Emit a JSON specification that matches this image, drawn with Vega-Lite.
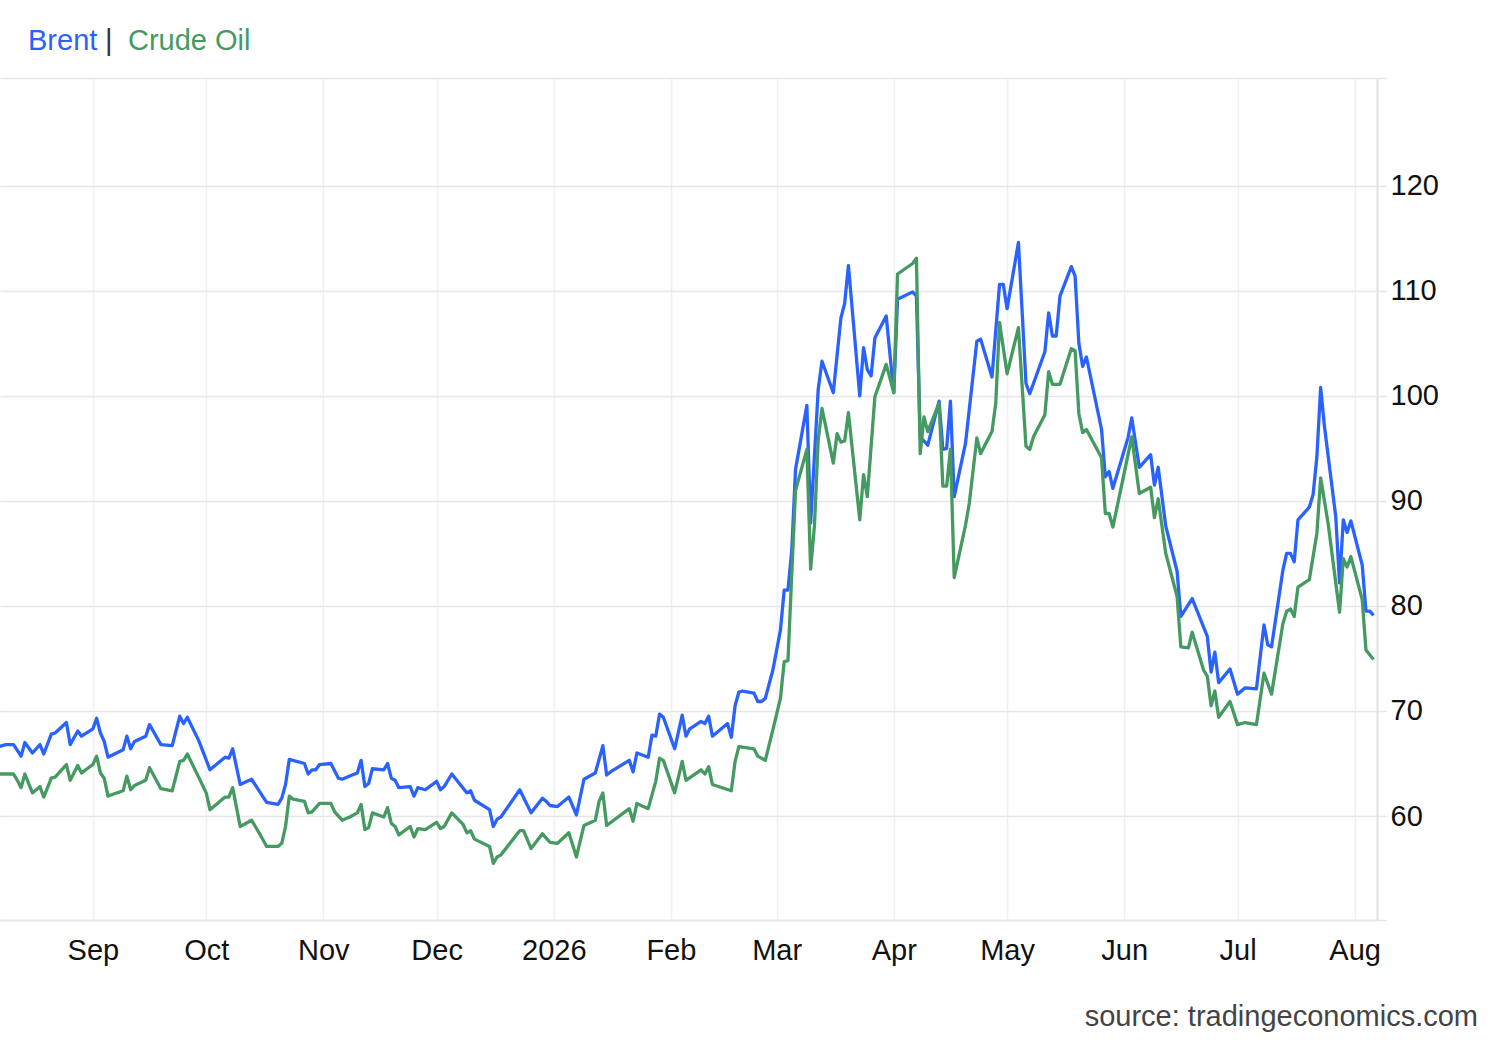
{
  "$schema": "https://vega.github.io/schema/vega-lite/v6.json",
  "width": 1377,
  "height": 842,
  "autosize": {"type": "none"},
  "padding": {"left": 0, "top": 78, "right": 123, "bottom": 120},
  "background": "white",
  "config": {
    "font": "Liberation Sans",
    "view": {"stroke": null}
  },
  "title": {
    "text": "source: tradingeconomics.com",
    "orient": "bottom",
    "anchor": "end",
    "frame": "group",
    "dx": 101,
    "offset": 38,
    "fontSize": 29,
    "fontWeight": "normal",
    "color": "#444444"
  },
  "data": {
    "values": [
      {"date": "2025-08-07", "series": "Brent", "price": 66.6},
      {"date": "2025-08-09", "series": "Brent", "price": 66.8},
      {"date": "2025-08-11", "series": "Brent", "price": 66.8},
      {"date": "2025-08-13", "series": "Brent", "price": 65.7},
      {"date": "2025-08-14", "series": "Brent", "price": 67.0},
      {"date": "2025-08-16", "series": "Brent", "price": 66.0},
      {"date": "2025-08-18", "series": "Brent", "price": 66.8},
      {"date": "2025-08-19", "series": "Brent", "price": 65.9},
      {"date": "2025-08-21", "series": "Brent", "price": 67.8},
      {"date": "2025-08-22", "series": "Brent", "price": 67.9},
      {"date": "2025-08-25", "series": "Brent", "price": 68.9},
      {"date": "2025-08-26", "series": "Brent", "price": 66.8},
      {"date": "2025-08-28", "series": "Brent", "price": 68.1},
      {"date": "2025-08-29", "series": "Brent", "price": 67.6},
      {"date": "2025-09-01", "series": "Brent", "price": 68.3},
      {"date": "2025-09-02", "series": "Brent", "price": 69.3},
      {"date": "2025-09-03", "series": "Brent", "price": 67.9},
      {"date": "2025-09-04", "series": "Brent", "price": 67.1},
      {"date": "2025-09-05", "series": "Brent", "price": 65.6},
      {"date": "2025-09-09", "series": "Brent", "price": 66.3},
      {"date": "2025-09-10", "series": "Brent", "price": 67.6},
      {"date": "2025-09-11", "series": "Brent", "price": 66.4},
      {"date": "2025-09-12", "series": "Brent", "price": 67.1},
      {"date": "2025-09-15", "series": "Brent", "price": 67.6},
      {"date": "2025-09-16", "series": "Brent", "price": 68.7},
      {"date": "2025-09-19", "series": "Brent", "price": 66.8},
      {"date": "2025-09-22", "series": "Brent", "price": 66.7},
      {"date": "2025-09-24", "series": "Brent", "price": 69.5},
      {"date": "2025-09-25", "series": "Brent", "price": 68.8},
      {"date": "2025-09-26", "series": "Brent", "price": 69.4},
      {"date": "2025-09-29", "series": "Brent", "price": 67.2},
      {"date": "2025-10-02", "series": "Brent", "price": 64.4},
      {"date": "2025-10-06", "series": "Brent", "price": 65.6},
      {"date": "2025-10-07", "series": "Brent", "price": 65.5},
      {"date": "2025-10-08", "series": "Brent", "price": 66.4},
      {"date": "2025-10-10", "series": "Brent", "price": 63.0},
      {"date": "2025-10-13", "series": "Brent", "price": 63.5},
      {"date": "2025-10-17", "series": "Brent", "price": 61.3},
      {"date": "2025-10-20", "series": "Brent", "price": 61.1},
      {"date": "2025-10-21", "series": "Brent", "price": 61.7},
      {"date": "2025-10-22", "series": "Brent", "price": 63.0},
      {"date": "2025-10-23", "series": "Brent", "price": 65.4},
      {"date": "2025-10-27", "series": "Brent", "price": 65.0},
      {"date": "2025-10-28", "series": "Brent", "price": 64.0},
      {"date": "2025-10-29", "series": "Brent", "price": 64.4},
      {"date": "2025-10-30", "series": "Brent", "price": 64.4},
      {"date": "2025-10-31", "series": "Brent", "price": 64.9},
      {"date": "2025-11-03", "series": "Brent", "price": 65.0},
      {"date": "2025-11-05", "series": "Brent", "price": 63.6},
      {"date": "2025-11-06", "series": "Brent", "price": 63.5},
      {"date": "2025-11-08", "series": "Brent", "price": 63.8},
      {"date": "2025-11-10", "series": "Brent", "price": 64.1},
      {"date": "2025-11-11", "series": "Brent", "price": 65.3},
      {"date": "2025-11-12", "series": "Brent", "price": 62.8},
      {"date": "2025-11-13", "series": "Brent", "price": 63.1},
      {"date": "2025-11-14", "series": "Brent", "price": 64.5},
      {"date": "2025-11-17", "series": "Brent", "price": 64.4},
      {"date": "2025-11-18", "series": "Brent", "price": 65.0},
      {"date": "2025-11-19", "series": "Brent", "price": 63.6},
      {"date": "2025-11-20", "series": "Brent", "price": 63.4},
      {"date": "2025-11-21", "series": "Brent", "price": 62.7},
      {"date": "2025-11-24", "series": "Brent", "price": 62.8},
      {"date": "2025-11-25", "series": "Brent", "price": 61.9},
      {"date": "2025-11-26", "series": "Brent", "price": 62.7},
      {"date": "2025-11-28", "series": "Brent", "price": 62.5},
      {"date": "2025-12-01", "series": "Brent", "price": 63.3},
      {"date": "2025-12-02", "series": "Brent", "price": 62.5},
      {"date": "2025-12-03", "series": "Brent", "price": 62.8},
      {"date": "2025-12-05", "series": "Brent", "price": 64.0},
      {"date": "2025-12-09", "series": "Brent", "price": 62.2},
      {"date": "2025-12-10", "series": "Brent", "price": 62.4},
      {"date": "2025-12-11", "series": "Brent", "price": 61.5},
      {"date": "2025-12-15", "series": "Brent", "price": 60.6},
      {"date": "2025-12-16", "series": "Brent", "price": 59.0},
      {"date": "2025-12-17", "series": "Brent", "price": 59.7},
      {"date": "2025-12-18", "series": "Brent", "price": 59.9},
      {"date": "2025-12-23", "series": "Brent", "price": 62.5},
      {"date": "2025-12-26", "series": "Brent", "price": 60.3},
      {"date": "2025-12-29", "series": "Brent", "price": 61.7},
      {"date": "2025-12-30", "series": "Brent", "price": 61.4},
      {"date": "2025-12-31", "series": "Brent", "price": 61.0},
      {"date": "2026-01-02", "series": "Brent", "price": 60.9},
      {"date": "2026-01-05", "series": "Brent", "price": 61.8},
      {"date": "2026-01-07", "series": "Brent", "price": 60.1},
      {"date": "2026-01-09", "series": "Brent", "price": 63.5},
      {"date": "2026-01-12", "series": "Brent", "price": 64.1},
      {"date": "2026-01-14", "series": "Brent", "price": 66.7},
      {"date": "2026-01-15", "series": "Brent", "price": 63.9},
      {"date": "2026-01-16", "series": "Brent", "price": 64.2},
      {"date": "2026-01-21", "series": "Brent", "price": 65.3},
      {"date": "2026-01-22", "series": "Brent", "price": 64.2},
      {"date": "2026-01-23", "series": "Brent", "price": 66.0},
      {"date": "2026-01-26", "series": "Brent", "price": 65.6},
      {"date": "2026-01-27", "series": "Brent", "price": 67.7},
      {"date": "2026-01-28", "series": "Brent", "price": 67.6},
      {"date": "2026-01-29", "series": "Brent", "price": 69.7},
      {"date": "2026-01-30", "series": "Brent", "price": 69.4},
      {"date": "2026-02-02", "series": "Brent", "price": 66.4},
      {"date": "2026-02-04", "series": "Brent", "price": 69.6},
      {"date": "2026-02-05", "series": "Brent", "price": 67.6},
      {"date": "2026-02-06", "series": "Brent", "price": 68.3},
      {"date": "2026-02-09", "series": "Brent", "price": 69.0},
      {"date": "2026-02-10", "series": "Brent", "price": 68.8},
      {"date": "2026-02-11", "series": "Brent", "price": 69.5},
      {"date": "2026-02-12", "series": "Brent", "price": 67.6},
      {"date": "2026-02-16", "series": "Brent", "price": 68.8},
      {"date": "2026-02-17", "series": "Brent", "price": 67.5},
      {"date": "2026-02-18", "series": "Brent", "price": 70.5},
      {"date": "2026-02-19", "series": "Brent", "price": 71.8},
      {"date": "2026-02-20", "series": "Brent", "price": 71.9},
      {"date": "2026-02-23", "series": "Brent", "price": 71.7},
      {"date": "2026-02-24", "series": "Brent", "price": 70.9},
      {"date": "2026-02-25", "series": "Brent", "price": 70.9},
      {"date": "2026-02-26", "series": "Brent", "price": 71.2},
      {"date": "2026-02-28", "series": "Brent", "price": 73.9},
      {"date": "2026-03-02", "series": "Brent", "price": 77.7},
      {"date": "2026-03-03", "series": "Brent", "price": 81.5},
      {"date": "2026-03-04", "series": "Brent", "price": 81.5},
      {"date": "2026-03-05", "series": "Brent", "price": 85.3},
      {"date": "2026-03-06", "series": "Brent", "price": 93.0},
      {"date": "2026-03-09", "series": "Brent", "price": 99.1},
      {"date": "2026-03-10", "series": "Brent", "price": 87.9},
      {"date": "2026-03-12", "series": "Brent", "price": 100.6},
      {"date": "2026-03-13", "series": "Brent", "price": 103.3},
      {"date": "2026-03-16", "series": "Brent", "price": 100.3},
      {"date": "2026-03-18", "series": "Brent", "price": 107.4},
      {"date": "2026-03-19", "series": "Brent", "price": 108.8},
      {"date": "2026-03-20", "series": "Brent", "price": 112.4},
      {"date": "2026-03-23", "series": "Brent", "price": 100.0},
      {"date": "2026-03-24", "series": "Brent", "price": 104.6},
      {"date": "2026-03-25", "series": "Brent", "price": 102.5},
      {"date": "2026-03-26", "series": "Brent", "price": 101.9},
      {"date": "2026-03-27", "series": "Brent", "price": 105.5},
      {"date": "2026-03-30", "series": "Brent", "price": 107.6},
      {"date": "2026-04-01", "series": "Brent", "price": 100.3},
      {"date": "2026-04-02", "series": "Brent", "price": 109.2},
      {"date": "2026-04-06", "series": "Brent", "price": 109.9},
      {"date": "2026-04-07", "series": "Brent", "price": 109.5},
      {"date": "2026-04-08", "series": "Brent", "price": 96.1},
      {"date": "2026-04-09", "series": "Brent", "price": 95.7},
      {"date": "2026-04-10", "series": "Brent", "price": 95.3},
      {"date": "2026-04-13", "series": "Brent", "price": 99.5},
      {"date": "2026-04-14", "series": "Brent", "price": 94.9},
      {"date": "2026-04-15", "series": "Brent", "price": 95.0},
      {"date": "2026-04-16", "series": "Brent", "price": 99.5},
      {"date": "2026-04-17", "series": "Brent", "price": 90.4},
      {"date": "2026-04-20", "series": "Brent", "price": 95.5},
      {"date": "2026-04-23", "series": "Brent", "price": 105.2},
      {"date": "2026-04-24", "series": "Brent", "price": 105.4},
      {"date": "2026-04-27", "series": "Brent", "price": 101.8},
      {"date": "2026-04-29", "series": "Brent", "price": 110.6},
      {"date": "2026-04-30", "series": "Brent", "price": 110.6},
      {"date": "2026-05-01", "series": "Brent", "price": 108.3},
      {"date": "2026-05-04", "series": "Brent", "price": 114.6},
      {"date": "2026-05-06", "series": "Brent", "price": 101.2},
      {"date": "2026-05-07", "series": "Brent", "price": 100.2},
      {"date": "2026-05-11", "series": "Brent", "price": 104.2},
      {"date": "2026-05-12", "series": "Brent", "price": 107.9},
      {"date": "2026-05-13", "series": "Brent", "price": 105.7},
      {"date": "2026-05-14", "series": "Brent", "price": 105.7},
      {"date": "2026-05-15", "series": "Brent", "price": 109.5},
      {"date": "2026-05-18", "series": "Brent", "price": 112.3},
      {"date": "2026-05-19", "series": "Brent", "price": 111.4},
      {"date": "2026-05-20", "series": "Brent", "price": 105.0},
      {"date": "2026-05-21", "series": "Brent", "price": 102.8},
      {"date": "2026-05-22", "series": "Brent", "price": 103.7},
      {"date": "2026-05-26", "series": "Brent", "price": 96.8},
      {"date": "2026-05-27", "series": "Brent", "price": 92.3},
      {"date": "2026-05-28", "series": "Brent", "price": 92.8},
      {"date": "2026-05-29", "series": "Brent", "price": 91.2},
      {"date": "2026-06-02", "series": "Brent", "price": 96.0},
      {"date": "2026-06-03", "series": "Brent", "price": 97.9},
      {"date": "2026-06-05", "series": "Brent", "price": 93.2},
      {"date": "2026-06-08", "series": "Brent", "price": 94.4},
      {"date": "2026-06-09", "series": "Brent", "price": 91.5},
      {"date": "2026-06-10", "series": "Brent", "price": 93.2},
      {"date": "2026-06-12", "series": "Brent", "price": 87.6},
      {"date": "2026-06-15", "series": "Brent", "price": 83.3},
      {"date": "2026-06-16", "series": "Brent", "price": 79.0},
      {"date": "2026-06-19", "series": "Brent", "price": 80.7},
      {"date": "2026-06-23", "series": "Brent", "price": 77.1},
      {"date": "2026-06-24", "series": "Brent", "price": 73.7},
      {"date": "2026-06-25", "series": "Brent", "price": 75.6},
      {"date": "2026-06-26", "series": "Brent", "price": 72.7},
      {"date": "2026-06-29", "series": "Brent", "price": 74.0},
      {"date": "2026-07-01", "series": "Brent", "price": 71.6},
      {"date": "2026-07-03", "series": "Brent", "price": 72.2},
      {"date": "2026-07-06", "series": "Brent", "price": 72.1},
      {"date": "2026-07-08", "series": "Brent", "price": 78.2},
      {"date": "2026-07-09", "series": "Brent", "price": 76.3},
      {"date": "2026-07-10", "series": "Brent", "price": 76.1},
      {"date": "2026-07-13", "series": "Brent", "price": 83.4},
      {"date": "2026-07-14", "series": "Brent", "price": 85.0},
      {"date": "2026-07-15", "series": "Brent", "price": 85.0},
      {"date": "2026-07-16", "series": "Brent", "price": 84.2},
      {"date": "2026-07-17", "series": "Brent", "price": 88.2},
      {"date": "2026-07-20", "series": "Brent", "price": 89.4},
      {"date": "2026-07-21", "series": "Brent", "price": 90.6},
      {"date": "2026-07-22", "series": "Brent", "price": 94.2},
      {"date": "2026-07-23", "series": "Brent", "price": 100.8},
      {"date": "2026-07-24", "series": "Brent", "price": 97.1},
      {"date": "2026-07-27", "series": "Brent", "price": 88.5},
      {"date": "2026-07-28", "series": "Brent", "price": 82.2},
      {"date": "2026-07-29", "series": "Brent", "price": 88.2},
      {"date": "2026-07-30", "series": "Brent", "price": 87.0},
      {"date": "2026-07-31", "series": "Brent", "price": 88.1},
      {"date": "2026-08-03", "series": "Brent", "price": 83.9},
      {"date": "2026-08-04", "series": "Brent", "price": 79.5},
      {"date": "2026-08-05", "series": "Brent", "price": 79.5},
      {"date": "2026-08-06", "series": "Brent", "price": 79.1},
      {"date": "2025-08-07", "series": "Crude Oil", "price": 64.0},
      {"date": "2025-08-11", "series": "Crude Oil", "price": 64.0},
      {"date": "2025-08-12", "series": "Crude Oil", "price": 63.4},
      {"date": "2025-08-13", "series": "Crude Oil", "price": 62.7},
      {"date": "2025-08-14", "series": "Crude Oil", "price": 64.0},
      {"date": "2025-08-16", "series": "Crude Oil", "price": 62.2},
      {"date": "2025-08-18", "series": "Crude Oil", "price": 62.8},
      {"date": "2025-08-19", "series": "Crude Oil", "price": 61.8},
      {"date": "2025-08-21", "series": "Crude Oil", "price": 63.6},
      {"date": "2025-08-22", "series": "Crude Oil", "price": 63.7},
      {"date": "2025-08-25", "series": "Crude Oil", "price": 64.9},
      {"date": "2025-08-26", "series": "Crude Oil", "price": 63.4},
      {"date": "2025-08-28", "series": "Crude Oil", "price": 64.8},
      {"date": "2025-08-29", "series": "Crude Oil", "price": 64.1},
      {"date": "2025-09-01", "series": "Crude Oil", "price": 64.9},
      {"date": "2025-09-02", "series": "Crude Oil", "price": 65.7},
      {"date": "2025-09-03", "series": "Crude Oil", "price": 64.1},
      {"date": "2025-09-04", "series": "Crude Oil", "price": 63.6},
      {"date": "2025-09-05", "series": "Crude Oil", "price": 61.9},
      {"date": "2025-09-09", "series": "Crude Oil", "price": 62.4},
      {"date": "2025-09-10", "series": "Crude Oil", "price": 63.8},
      {"date": "2025-09-11", "series": "Crude Oil", "price": 62.5},
      {"date": "2025-09-12", "series": "Crude Oil", "price": 62.9},
      {"date": "2025-09-15", "series": "Crude Oil", "price": 63.4},
      {"date": "2025-09-16", "series": "Crude Oil", "price": 64.6},
      {"date": "2025-09-19", "series": "Crude Oil", "price": 62.6},
      {"date": "2025-09-22", "series": "Crude Oil", "price": 62.4},
      {"date": "2025-09-24", "series": "Crude Oil", "price": 65.2},
      {"date": "2025-09-25", "series": "Crude Oil", "price": 65.3},
      {"date": "2025-09-26", "series": "Crude Oil", "price": 65.9},
      {"date": "2025-09-29", "series": "Crude Oil", "price": 63.7},
      {"date": "2025-10-01", "series": "Crude Oil", "price": 62.2},
      {"date": "2025-10-02", "series": "Crude Oil", "price": 60.6},
      {"date": "2025-10-06", "series": "Crude Oil", "price": 61.8},
      {"date": "2025-10-07", "series": "Crude Oil", "price": 61.8},
      {"date": "2025-10-08", "series": "Crude Oil", "price": 62.7},
      {"date": "2025-10-10", "series": "Crude Oil", "price": 59.0},
      {"date": "2025-10-13", "series": "Crude Oil", "price": 59.6},
      {"date": "2025-10-15", "series": "Crude Oil", "price": 58.4},
      {"date": "2025-10-17", "series": "Crude Oil", "price": 57.1},
      {"date": "2025-10-20", "series": "Crude Oil", "price": 57.1},
      {"date": "2025-10-21", "series": "Crude Oil", "price": 57.4},
      {"date": "2025-10-22", "series": "Crude Oil", "price": 59.0},
      {"date": "2025-10-23", "series": "Crude Oil", "price": 61.9},
      {"date": "2025-10-24", "series": "Crude Oil", "price": 61.6},
      {"date": "2025-10-27", "series": "Crude Oil", "price": 61.4},
      {"date": "2025-10-28", "series": "Crude Oil", "price": 60.3},
      {"date": "2025-10-29", "series": "Crude Oil", "price": 60.4},
      {"date": "2025-10-31", "series": "Crude Oil", "price": 61.2},
      {"date": "2025-11-03", "series": "Crude Oil", "price": 61.2},
      {"date": "2025-11-04", "series": "Crude Oil", "price": 60.4},
      {"date": "2025-11-06", "series": "Crude Oil", "price": 59.6},
      {"date": "2025-11-08", "series": "Crude Oil", "price": 59.9},
      {"date": "2025-11-10", "series": "Crude Oil", "price": 60.3},
      {"date": "2025-11-11", "series": "Crude Oil", "price": 61.1},
      {"date": "2025-11-12", "series": "Crude Oil", "price": 58.7},
      {"date": "2025-11-13", "series": "Crude Oil", "price": 58.9},
      {"date": "2025-11-14", "series": "Crude Oil", "price": 60.3},
      {"date": "2025-11-17", "series": "Crude Oil", "price": 59.9},
      {"date": "2025-11-18", "series": "Crude Oil", "price": 60.8},
      {"date": "2025-11-19", "series": "Crude Oil", "price": 59.3},
      {"date": "2025-11-20", "series": "Crude Oil", "price": 59.0},
      {"date": "2025-11-21", "series": "Crude Oil", "price": 58.2},
      {"date": "2025-11-24", "series": "Crude Oil", "price": 59.0},
      {"date": "2025-11-25", "series": "Crude Oil", "price": 58.0},
      {"date": "2025-11-26", "series": "Crude Oil", "price": 58.8},
      {"date": "2025-11-28", "series": "Crude Oil", "price": 58.7},
      {"date": "2025-12-01", "series": "Crude Oil", "price": 59.4},
      {"date": "2025-12-02", "series": "Crude Oil", "price": 58.8},
      {"date": "2025-12-03", "series": "Crude Oil", "price": 59.0},
      {"date": "2025-12-05", "series": "Crude Oil", "price": 60.3},
      {"date": "2025-12-08", "series": "Crude Oil", "price": 59.2},
      {"date": "2025-12-09", "series": "Crude Oil", "price": 58.4},
      {"date": "2025-12-10", "series": "Crude Oil", "price": 58.6},
      {"date": "2025-12-11", "series": "Crude Oil", "price": 57.8},
      {"date": "2025-12-15", "series": "Crude Oil", "price": 57.1},
      {"date": "2025-12-16", "series": "Crude Oil", "price": 55.5},
      {"date": "2025-12-17", "series": "Crude Oil", "price": 56.1},
      {"date": "2025-12-18", "series": "Crude Oil", "price": 56.3},
      {"date": "2025-12-23", "series": "Crude Oil", "price": 58.6},
      {"date": "2025-12-24", "series": "Crude Oil", "price": 58.6},
      {"date": "2025-12-26", "series": "Crude Oil", "price": 56.9},
      {"date": "2025-12-29", "series": "Crude Oil", "price": 58.3},
      {"date": "2025-12-30", "series": "Crude Oil", "price": 57.9},
      {"date": "2025-12-31", "series": "Crude Oil", "price": 57.5},
      {"date": "2026-01-02", "series": "Crude Oil", "price": 57.4},
      {"date": "2026-01-05", "series": "Crude Oil", "price": 58.4},
      {"date": "2026-01-07", "series": "Crude Oil", "price": 56.1},
      {"date": "2026-01-09", "series": "Crude Oil", "price": 59.1},
      {"date": "2026-01-12", "series": "Crude Oil", "price": 59.6},
      {"date": "2026-01-13", "series": "Crude Oil", "price": 61.4},
      {"date": "2026-01-14", "series": "Crude Oil", "price": 62.2},
      {"date": "2026-01-15", "series": "Crude Oil", "price": 59.1},
      {"date": "2026-01-21", "series": "Crude Oil", "price": 60.7},
      {"date": "2026-01-22", "series": "Crude Oil", "price": 59.5},
      {"date": "2026-01-23", "series": "Crude Oil", "price": 61.2},
      {"date": "2026-01-26", "series": "Crude Oil", "price": 60.7},
      {"date": "2026-01-28", "series": "Crude Oil", "price": 63.3},
      {"date": "2026-01-29", "series": "Crude Oil", "price": 65.5},
      {"date": "2026-01-30", "series": "Crude Oil", "price": 65.3},
      {"date": "2026-02-02", "series": "Crude Oil", "price": 62.2},
      {"date": "2026-02-04", "series": "Crude Oil", "price": 65.2},
      {"date": "2026-02-05", "series": "Crude Oil", "price": 63.4},
      {"date": "2026-02-09", "series": "Crude Oil", "price": 64.4},
      {"date": "2026-02-10", "series": "Crude Oil", "price": 64.0},
      {"date": "2026-02-11", "series": "Crude Oil", "price": 64.7},
      {"date": "2026-02-12", "series": "Crude Oil", "price": 63.0},
      {"date": "2026-02-17", "series": "Crude Oil", "price": 62.4},
      {"date": "2026-02-18", "series": "Crude Oil", "price": 65.2},
      {"date": "2026-02-19", "series": "Crude Oil", "price": 66.6},
      {"date": "2026-02-23", "series": "Crude Oil", "price": 66.4},
      {"date": "2026-02-24", "series": "Crude Oil", "price": 65.7},
      {"date": "2026-02-26", "series": "Crude Oil", "price": 65.3},
      {"date": "2026-02-28", "series": "Crude Oil", "price": 68.2},
      {"date": "2026-03-02", "series": "Crude Oil", "price": 71.2},
      {"date": "2026-03-03", "series": "Crude Oil", "price": 74.7},
      {"date": "2026-03-04", "series": "Crude Oil", "price": 74.8},
      {"date": "2026-03-05", "series": "Crude Oil", "price": 83.0},
      {"date": "2026-03-06", "series": "Crude Oil", "price": 91.0},
      {"date": "2026-03-09", "series": "Crude Oil", "price": 94.9},
      {"date": "2026-03-10", "series": "Crude Oil", "price": 83.5},
      {"date": "2026-03-11", "series": "Crude Oil", "price": 87.6},
      {"date": "2026-03-12", "series": "Crude Oil", "price": 95.8},
      {"date": "2026-03-13", "series": "Crude Oil", "price": 98.8},
      {"date": "2026-03-16", "series": "Crude Oil", "price": 93.6},
      {"date": "2026-03-17", "series": "Crude Oil", "price": 96.4},
      {"date": "2026-03-18", "series": "Crude Oil", "price": 95.6},
      {"date": "2026-03-19", "series": "Crude Oil", "price": 95.7},
      {"date": "2026-03-20", "series": "Crude Oil", "price": 98.4},
      {"date": "2026-03-23", "series": "Crude Oil", "price": 88.2},
      {"date": "2026-03-24", "series": "Crude Oil", "price": 92.5},
      {"date": "2026-03-25", "series": "Crude Oil", "price": 90.4},
      {"date": "2026-03-27", "series": "Crude Oil", "price": 99.9},
      {"date": "2026-03-30", "series": "Crude Oil", "price": 103.0},
      {"date": "2026-04-01", "series": "Crude Oil", "price": 100.3},
      {"date": "2026-04-02", "series": "Crude Oil", "price": 111.6},
      {"date": "2026-04-06", "series": "Crude Oil", "price": 112.6},
      {"date": "2026-04-07", "series": "Crude Oil", "price": 113.1},
      {"date": "2026-04-08", "series": "Crude Oil", "price": 94.5},
      {"date": "2026-04-09", "series": "Crude Oil", "price": 98.0},
      {"date": "2026-04-10", "series": "Crude Oil", "price": 96.6},
      {"date": "2026-04-13", "series": "Crude Oil", "price": 99.3},
      {"date": "2026-04-14", "series": "Crude Oil", "price": 91.4},
      {"date": "2026-04-15", "series": "Crude Oil", "price": 91.4},
      {"date": "2026-04-16", "series": "Crude Oil", "price": 94.9},
      {"date": "2026-04-17", "series": "Crude Oil", "price": 82.7},
      {"date": "2026-04-20", "series": "Crude Oil", "price": 87.7},
      {"date": "2026-04-21", "series": "Crude Oil", "price": 89.8},
      {"date": "2026-04-23", "series": "Crude Oil", "price": 96.0},
      {"date": "2026-04-24", "series": "Crude Oil", "price": 94.5},
      {"date": "2026-04-27", "series": "Crude Oil", "price": 96.6},
      {"date": "2026-04-28", "series": "Crude Oil", "price": 99.3},
      {"date": "2026-04-29", "series": "Crude Oil", "price": 107.0},
      {"date": "2026-05-01", "series": "Crude Oil", "price": 102.1},
      {"date": "2026-05-04", "series": "Crude Oil", "price": 106.5},
      {"date": "2026-05-06", "series": "Crude Oil", "price": 95.2},
      {"date": "2026-05-07", "series": "Crude Oil", "price": 94.9},
      {"date": "2026-05-08", "series": "Crude Oil", "price": 96.1},
      {"date": "2026-05-11", "series": "Crude Oil", "price": 98.2},
      {"date": "2026-05-12", "series": "Crude Oil", "price": 102.3},
      {"date": "2026-05-13", "series": "Crude Oil", "price": 101.1},
      {"date": "2026-05-15", "series": "Crude Oil", "price": 101.1},
      {"date": "2026-05-18", "series": "Crude Oil", "price": 104.5},
      {"date": "2026-05-19", "series": "Crude Oil", "price": 104.3},
      {"date": "2026-05-20", "series": "Crude Oil", "price": 98.3},
      {"date": "2026-05-21", "series": "Crude Oil", "price": 96.5},
      {"date": "2026-05-22", "series": "Crude Oil", "price": 96.8},
      {"date": "2026-05-26", "series": "Crude Oil", "price": 94.1},
      {"date": "2026-05-27", "series": "Crude Oil", "price": 88.8},
      {"date": "2026-05-28", "series": "Crude Oil", "price": 88.8},
      {"date": "2026-05-29", "series": "Crude Oil", "price": 87.5},
      {"date": "2026-06-03", "series": "Crude Oil", "price": 96.1},
      {"date": "2026-06-05", "series": "Crude Oil", "price": 90.7},
      {"date": "2026-06-08", "series": "Crude Oil", "price": 91.3},
      {"date": "2026-06-09", "series": "Crude Oil", "price": 88.4},
      {"date": "2026-06-10", "series": "Crude Oil", "price": 90.2},
      {"date": "2026-06-12", "series": "Crude Oil", "price": 85.0},
      {"date": "2026-06-15", "series": "Crude Oil", "price": 80.9},
      {"date": "2026-06-16", "series": "Crude Oil", "price": 76.1},
      {"date": "2026-06-18", "series": "Crude Oil", "price": 76.0},
      {"date": "2026-06-19", "series": "Crude Oil", "price": 77.5},
      {"date": "2026-06-22", "series": "Crude Oil", "price": 73.9},
      {"date": "2026-06-23", "series": "Crude Oil", "price": 73.3},
      {"date": "2026-06-24", "series": "Crude Oil", "price": 70.5},
      {"date": "2026-06-25", "series": "Crude Oil", "price": 71.9},
      {"date": "2026-06-26", "series": "Crude Oil", "price": 69.4},
      {"date": "2026-06-29", "series": "Crude Oil", "price": 70.9},
      {"date": "2026-07-01", "series": "Crude Oil", "price": 68.7},
      {"date": "2026-07-03", "series": "Crude Oil", "price": 68.9},
      {"date": "2026-07-06", "series": "Crude Oil", "price": 68.7},
      {"date": "2026-07-08", "series": "Crude Oil", "price": 73.6},
      {"date": "2026-07-10", "series": "Crude Oil", "price": 71.6},
      {"date": "2026-07-13", "series": "Crude Oil", "price": 78.3},
      {"date": "2026-07-14", "series": "Crude Oil", "price": 79.5},
      {"date": "2026-07-15", "series": "Crude Oil", "price": 79.7},
      {"date": "2026-07-16", "series": "Crude Oil", "price": 79.0},
      {"date": "2026-07-17", "series": "Crude Oil", "price": 81.8},
      {"date": "2026-07-20", "series": "Crude Oil", "price": 82.5},
      {"date": "2026-07-22", "series": "Crude Oil", "price": 86.9},
      {"date": "2026-07-23", "series": "Crude Oil", "price": 92.2},
      {"date": "2026-07-25", "series": "Crude Oil", "price": 87.8},
      {"date": "2026-07-28", "series": "Crude Oil", "price": 79.4},
      {"date": "2026-07-29", "series": "Crude Oil", "price": 84.5},
      {"date": "2026-07-30", "series": "Crude Oil", "price": 83.7},
      {"date": "2026-07-31", "series": "Crude Oil", "price": 84.7},
      {"date": "2026-08-03", "series": "Crude Oil", "price": 80.6},
      {"date": "2026-08-04", "series": "Crude Oil", "price": 75.8},
      {"date": "2026-08-06", "series": "Crude Oil", "price": 74.9}
    ]
  },
  "mark": {"type": "line", "strokeWidth": 3.3, "clip": true, "strokeJoin": "round"},
  "encoding": {
    "x": {
      "field": "date",
      "type": "temporal",
      "title": null,
      "scale": {
        "type": "utc",
        "domain": [
          {"year": 2025, "month": 8, "date": 7, "hours": 10, "utc": true},
          {"year": 2026, "month": 8, "date": 6, "hours": 22, "utc": true}
        ]
      },
      "axis": {
        "tickCount": {"interval": "month", "step": 1},
        "labelExpr": "utcFormat(datum.value, '%m') == '01' ? utcFormat(datum.value, '%Y') : utcFormat(datum.value, '%b')",
        "grid": true,
        "gridColor": "#edf0f4",
        "gridWidth": 1.5,
        "ticks": false,
        "domain": true,
        "domainColor": "#e6e6e6",
        "domainWidth": 1.5,
        "labelFontSize": 29,
        "labelColor": "#111111",
        "labelPadding": 16,
        "labelFlush": false,
        "labelOverlap": false
      }
    },
    "y": {
      "field": "price",
      "type": "quantitative",
      "title": null,
      "scale": {"domain": [50.1, 130.26], "nice": false, "zero": false},
      "axis": {
        "orient": "right",
        "values": [50.1, 60, 70, 80, 90, 100, 110, 120, 130.26],
        "labelExpr": "datum.value < 55 || datum.value > 125 ? '' : datum.label",
        "grid": true,
        "gridColor": "#e6e6e6",
        "gridWidth": 1.5,
        "tickColor": "#e6e6e6",
        "tickWidth": 1.5,
        "tickSize": 9,
        "domain": true,
        "domainColor": "#e2e2e2",
        "domainWidth": 2,
        "labelFontSize": 29,
        "labelColor": "#111111",
        "labelPadding": 4
      }
    },
    "color": {
      "field": "series",
      "type": "nominal",
      "scale": {
        "domain": ["Brent", "|", "Crude Oil"],
        "range": ["#2962ff", "#333333", "#459a61"]
      },
      "legend": {
        "orient": "none",
        "legendX": 29,
        "legendY": -52,
        "direction": "horizontal",
        "title": null,
        "symbolSize": 0,
        "symbolStrokeWidth": 0,
        "symbolOpacity": 0,
        "labelOffset": -30,
        "columnPadding": 7,
        "labelFontSize": 29,
        "labelLimit": 0,
        "encode": {
          "labels": {"update": {"fill": {"scale": "color", "field": "value"}}}
        }
      }
    }
  }
}
